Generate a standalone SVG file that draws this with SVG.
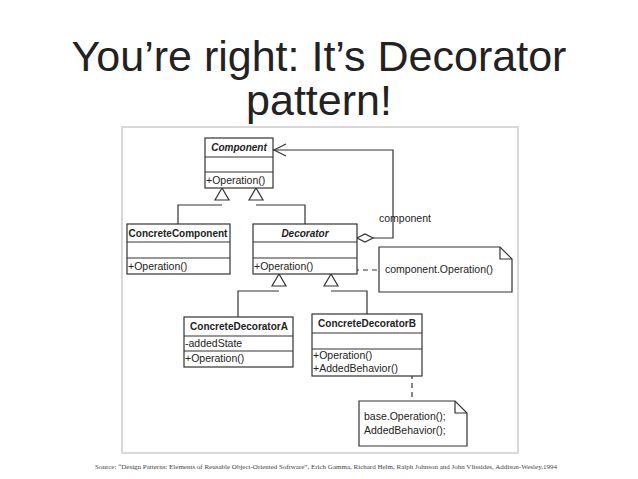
<svg xmlns="http://www.w3.org/2000/svg" width="638" height="479" viewBox="0 0 638 479">
<style>
.b{fill:#fff;stroke:#333;stroke-width:1.2}
.l{fill:none;stroke:#333;stroke-width:1.2}
.d{fill:none;stroke:#333;stroke-width:1.2;stroke-dasharray:5,4}
.t{font-family:"Liberation Sans",Arial,sans-serif;font-size:10.5px;fill:#222}
.h{font-family:"Liberation Sans",Arial,sans-serif;font-size:10px;font-weight:bold;fill:#222}
.tri{fill:#fff;stroke:#333;stroke-width:1.2}
</style>
<rect width="638" height="479" fill="#fff"/>
<g id="title" font-family="'Liberation Sans',Arial,sans-serif" font-size="43" fill="#222" text-anchor="middle">
<text x="319" y="71">You’re right: It’s Decorator</text>
<text x="319" y="115">pattern!</text>
</g>
<rect x="122" y="127" width="396" height="326" fill="#fff" stroke="#d8d8d8" stroke-width="2"/>
<g id="connectors">
<path class="l" d="M178,224V205H222M256,205H305V224"/>
<path class="l" d="M238,317V291H279M331,291H367V315"/>
<path class="l" d="M373,238H393V150H273"/>
<path class="l" d="M286,144L274,150L286,156"/>
<path d="M357,238L365,234L373,238L365,242Z" class="b"/>
<polygon class="tri" points="222,188 215,200 229,200"/>
<polygon class="tri" points="256,188 249,200 263,200"/>
<polygon class="tri" points="279,274 272,286 286,286"/>
<polygon class="tri" points="331,274 324,286 338,286"/>
<path class="d" d="M345,270H379"/>
<path class="d" d="M412,356V401"/>
<text class="t" x="379" y="222">component</text>
</g>
<g id="Component"><rect class="b" x="205" y="138" width="68" height="50"/><path class="l" d="M205,157H273M205,172H273"/>
<text class="h" x="239" y="151" text-anchor="middle" font-style="italic">Component</text><text class="t" x="206" y="184">+Operation()</text></g>
<g id="ConcreteComponent"><rect class="b" x="127" y="224" width="103" height="50"/><path class="l" d="M127,242H230M127,258H230"/>
<text class="h" x="178" y="237" text-anchor="middle">ConcreteComponent</text><text class="t" x="128" y="270">+Operation()</text></g>
<g id="Decorator"><rect class="b" x="253" y="224" width="104" height="50"/><path class="l" d="M253,242H357M253,258H357"/>
<text class="h" x="305" y="237" text-anchor="middle" font-style="italic">Decorator</text><text class="t" x="254" y="270">+Operation()</text></g>
<g id="ConcreteDecoratorA"><rect class="b" x="184" y="317" width="109" height="50"/><path class="l" d="M184,336H293M184,351H293"/>
<text class="h" x="239" y="330" text-anchor="middle">ConcreteDecoratorA</text><text class="t" x="185" y="347">-addedState</text><text class="t" x="185" y="362">+Operation()</text></g>
<g id="ConcreteDecoratorB"><rect class="b" x="312" y="314" width="110" height="62"/><path class="l" d="M312,333H422M312,349H422"/>
<text class="h" x="367" y="327" text-anchor="middle">ConcreteDecoratorB</text><text class="t" x="313" y="359">+Operation()</text><text class="t" x="313" y="372">+AddedBehavior()</text></g>
<g id="note1"><path class="b" d="M379,247H500L512,259V292H379Z"/><path class="l" d="M500,247V259H512"/>
<text class="t" x="385" y="273">component.Operation()</text></g>
<g id="note2"><path class="b" d="M359,401H455L467,413V446H359Z"/><path class="l" d="M455,401V413H467"/>
<text class="t" x="364" y="420">base.Operation();</text><text class="t" x="364" y="434">AddedBehavior();</text></g>
<text x="95" y="469" font-family="'Liberation Serif',serif" font-size="7" fill="#444">Source: “Design Patterns: Elements of Reusable Object-Oriented Software”, Erich Gamma, Richard Helm, Ralph Johnson and John Vlissides, Addison-Wesley,1994</text>
</svg>
